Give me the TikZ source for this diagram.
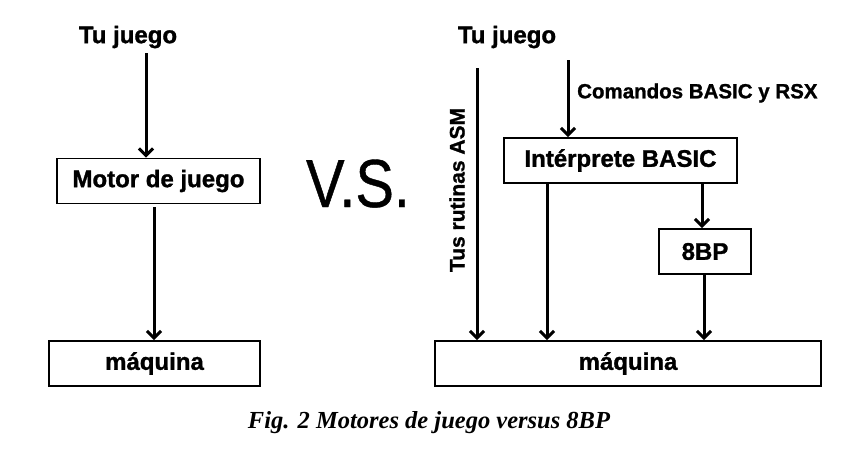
\documentclass[tikz,border=0pt]{standalone}
\usepackage{fontspec}
\setmainfont{Liberation Sans}[BoldFeatures={FakeBold=1.2}]
\newfontfamily\vsfont{Liberation Sans}[FakeStretch=0.85, FakeBold=0.6]
\newfontfamily\capfont{Liberation Serif}
\usetikzlibrary{arrows.meta,calc}

\tikzset{
    box/.style = {draw, line width=1.8pt, inner sep=0pt, minimum height=45pt, font=\fontsize{24}{28}\selectfont\bfseries},
    lbl/.style = {inner sep=0pt, font=\fontsize{24}{28}\selectfont\bfseries},
    arr/.style = {line width=3pt, -{Straight Barb[length=7pt,width=14pt]}}
}

\begin{document}
\begin{tikzpicture}[x=1pt, y=-1pt]
        \useasboundingbox[fill=white] (0,0) rectangle (851,450);

        % motor de juego
        \node[lbl] (juegoA) at (128,37) {Tu juego};
        \node[box, minimum width=203pt] (motor) at (158.5,181) {Motor de juego};
        \node[box, minimum width=211pt] (maqA) at (154.5,363.5) {máquina};
        \coordinate (inA) at (146,53);
        \coordinate (outA) at (154,207);

        \node[inner sep=0pt, anchor=base, font=\fontsize{68}{70}\selectfont\vsfont] (vs) at (358,207) {V.S.};

        % 8BP
        \node[lbl] (juegoB) at (507,37) {Tu juego};
        \node[lbl, font=\fontsize{20.5}{23}\selectfont\bfseries, anchor=west] (cmd) at (577,93) {Comandos BASIC y RSX};
        \node[lbl, font=\fontsize{21}{24}\selectfont\bfseries, rotate=90] (asm) at (457,190) {Tus rutinas ASM};
        \node[box, minimum width=233pt] (interp) at (620.5,160.5) {Intérprete BASIC};
        \node[box, minimum width=92pt] (bp) at (705,251.5) {8BP};
        \node[box, minimum width=386pt] (maqB) at (628,363.5) {máquina};
        \coordinate (inB) at (477,68);
        \coordinate (inC) at (568,60);

        \draw[arr] (inA) -- (inA |- motor.north);
        \draw[arr] (outA) -- (outA |- maqA.north);

        \draw[arr] (inB) -- (inB |- maqB.north);
        \draw[arr] (inC) -- (inC |- interp.north);
        \draw[arr] (interp.south -| 547,0) -- (maqB.north -| 547,0);
        \draw[arr] (interp.south -| 702,0) -- (bp.north -| 702,0);
        \draw[arr] (bp.south -| 704,0) -- (maqB.north -| 704,0);

        \node[inner sep=0pt, font=\fontsize{24.5}{27}\selectfont\capfont\bfseries\itshape] (caption) at (429,423) {Fig. 2 Motores de juego versus 8BP};
\end{tikzpicture}
\end{document}
